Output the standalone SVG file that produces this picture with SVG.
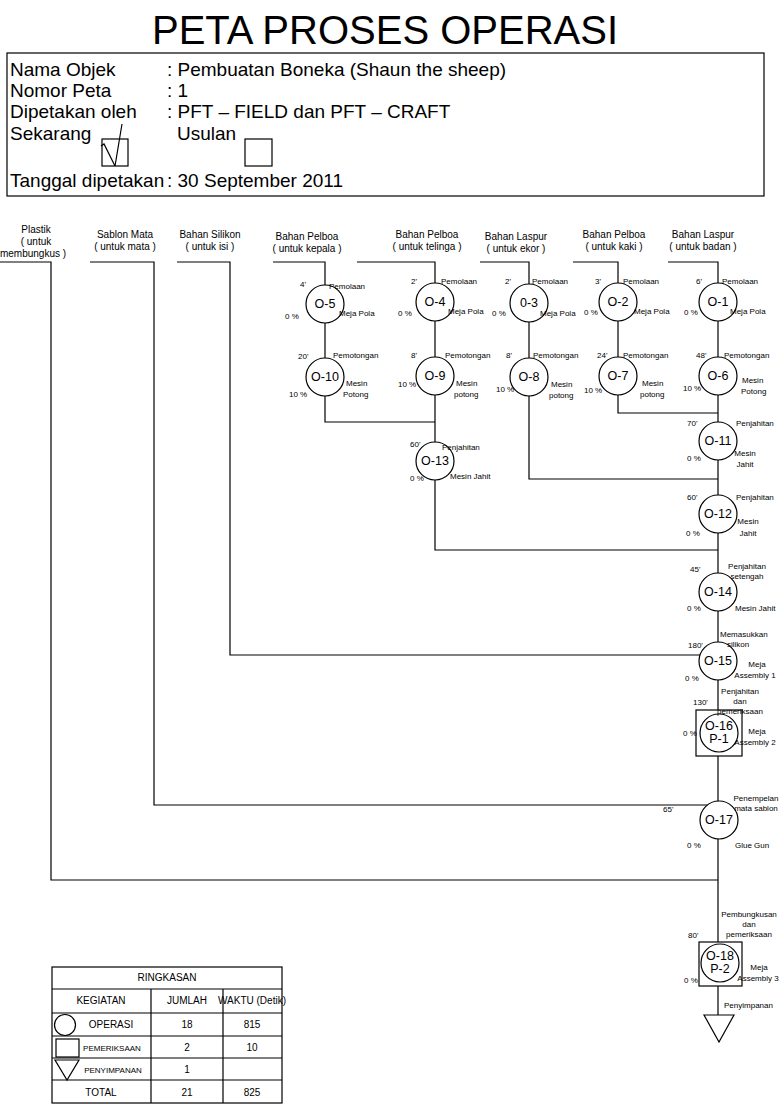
<svg xmlns="http://www.w3.org/2000/svg" width="781" height="1104" viewBox="0 0 781 1104">
<style>
text{font-family:"Liberation Sans",Arial,sans-serif;fill:#000}
.t{font-size:40px}.h{font-size:19px}.s{font-size:10px}.x{font-size:8px}.n{font-size:12.5px}.r{font-size:10px}
.ln{stroke:#000;stroke-width:1.2;fill:none}
.nd{stroke:#000;stroke-width:1.2;fill:#fff}
</style>
<rect width="781" height="1104" fill="#fff"/>
<text class="t" x="385" y="44" text-anchor="middle">PETA PROSES OPERASI</text>
<g id="header">
<rect x="7" y="53" width="757" height="143" class="ln"/>
<text class="h" x="10" y="76">Nama Objek</text><text class="h" x="167" y="76">: Pembuatan Boneka (Shaun the sheep)</text>
<text class="h" x="10" y="97">Nomor Peta</text><text class="h" x="167" y="97">: 1</text>
<text class="h" x="10" y="118">Dipetakan oleh</text><text class="h" x="167" y="118">: PFT – FIELD dan PFT – CRAFT</text>
<text class="h" x="10" y="140">Sekarang</text><text class="h" x="177" y="140">Usulan</text>
<rect x="102" y="139" width="26" height="27" class="ln"/>
<path d="M101 146 L104 144 L115 166" class="ln" stroke-width="2.4"/>
<path d="M115 166 L122 124" class="ln" stroke-width="1"/>
<rect x="245" y="139" width="27" height="27" class="ln"/>
<text class="h" x="10" y="187">Tanggal dipetakan</text><text class="h" x="167" y="187">: 30 September 2011</text>
</g>
<g id="sources" class="s" text-anchor="middle">
<text x="36" y="233">Plastik</text><text x="36" y="245">( untuk</text><text x="33" y="257">membungkus )</text>
<text x="125" y="238">Sablon Mata</text><text x="125" y="250">( untuk mata )</text>
<text x="210" y="238">Bahan Silikon</text><text x="210" y="250">( untuk isi )</text>
<text x="307" y="240">Bahan Pelboa</text><text x="307" y="252">( untuk kepala )</text>
<text x="427" y="238">Bahan Pelboa</text><text x="427" y="250">( untuk telinga )</text>
<text x="516" y="240">Bahan Laspur</text><text x="516" y="252">( untuk ekor )</text>
<text x="614" y="238">Bahan Pelboa</text><text x="614" y="250">( untuk kaki )</text>
<text x="703" y="238">Bahan Laspur</text><text x="703" y="250">( untuk badan )</text>
</g>
<g id="connectors" class="ln">
<path d="M0 262 H51 V880 H718"/>
<path d="M90 262 H154 V805 H718"/>
<path d="M177 262 H230 V655 H718"/>
<path d="M273 262 H325 V422 H435"/>
<path d="M357 262 H435 V550 H718"/>
<path d="M480 262 H529 V479 H718"/>
<path d="M573 262 H618 V413 H718"/>
<path d="M668 262 H718 V1015"/>
</g>
<g id="O-5"><circle cx="325" cy="304" r="19" class="nd"/><text class="n" x="325" y="308" text-anchor="middle">O-5</text><text class="x" x="300" y="287">4'</text><text class="x" x="329" y="289">Pemolaan</text><text class="x" x="285" y="319">0 %</text><text class="x" x="339" y="316">Meja Pola</text></g>
<g id="O-10"><circle cx="325" cy="377" r="19" class="nd"/><text class="n" x="325" y="381" text-anchor="middle">O-10</text><text class="x" x="298" y="359">20'</text><text class="x" x="333" y="358">Pemotongan</text><text class="x" x="289" y="397">10 %</text><text class="x" x="346" y="386">Mesin</text><text class="x" x="343" y="397">Potong</text></g>
<g id="O-4"><circle cx="435" cy="302" r="19" class="nd"/><text class="n" x="435" y="306" text-anchor="middle">O-4</text><text class="x" x="411" y="284">2'</text><text class="x" x="441" y="284">Pemolaan</text><text class="x" x="398" y="316">0 %</text><text class="x" x="448" y="314">Meja Pola</text></g>
<g id="O-9"><circle cx="435" cy="376" r="19" class="nd"/><text class="n" x="435" y="380" text-anchor="middle">O-9</text><text class="x" x="411" y="358">8'</text><text class="x" x="445" y="358">Pemotongan</text><text class="x" x="398" y="387">10 %</text><text class="x" x="456" y="386">Mesin</text><text class="x" x="454" y="397">potong</text></g>
<g id="O-3"><circle cx="529" cy="303" r="19" class="nd"/><text class="n" x="529" y="307" text-anchor="middle">0-3</text><text class="x" x="505" y="284">2'</text><text class="x" x="532" y="284">Pemolaan</text><text class="x" x="492" y="316">0 %</text><text class="x" x="540" y="316">Meja Pola</text></g>
<g id="O-8"><circle cx="529" cy="377" r="19" class="nd"/><text class="n" x="529" y="381" text-anchor="middle">O-8</text><text class="x" x="506" y="358">8'</text><text class="x" x="533" y="358">Pemotongan</text><text class="x" x="496" y="392">10 %</text><text class="x" x="551" y="387">Mesin</text><text class="x" x="549" y="398">potong</text></g>
<g id="O-2"><circle cx="618" cy="302" r="19" class="nd"/><text class="n" x="618" y="306" text-anchor="middle">O-2</text><text class="x" x="595" y="284">3'</text><text class="x" x="623" y="284">Pemolaan</text><text class="x" x="584" y="315">0 %</text><text class="x" x="634" y="314">Meja Pola</text></g>
<g id="O-7"><circle cx="618" cy="376" r="19" class="nd"/><text class="n" x="618" y="380" text-anchor="middle">O-7</text><text class="x" x="597" y="358">24'</text><text class="x" x="623" y="358">Pemotongan</text><text class="x" x="584" y="393">10 %</text><text class="x" x="642" y="386">Mesin</text><text class="x" x="640" y="397">potong</text></g>
<g id="O-1"><circle cx="718" cy="302" r="19" class="nd"/><text class="n" x="718" y="306" text-anchor="middle">O-1</text><text class="x" x="696" y="284">6'</text><text class="x" x="722" y="284">Pemolaan</text><text class="x" x="684" y="315">0 %</text><text class="x" x="730" y="314">Meja Pola</text></g>
<g id="O-6"><circle cx="718" cy="376" r="19" class="nd"/><text class="n" x="718" y="380" text-anchor="middle">O-6</text><text class="x" x="696" y="358">48'</text><text class="x" x="724" y="358">Pemotongan</text><text class="x" x="683" y="391">10 %</text><text class="x" x="742" y="383">Mesin</text><text class="x" x="741" y="394">Potong</text></g>
<g id="O-11"><circle cx="718" cy="441" r="19" class="nd"/><text class="n" x="718" y="445" text-anchor="middle">O-11</text><text class="x" x="687" y="426">70'</text><text class="x" x="736" y="426">Penjahitan</text><text class="x" x="687" y="461">0 %</text><text class="x" x="745" y="456" text-anchor="middle">Mesin</text><text class="x" x="745" y="467" text-anchor="middle">Jahit</text></g>
<g id="O-13"><circle cx="435" cy="461" r="19" class="nd"/><text class="n" x="435" y="465" text-anchor="middle">O-13</text><text class="x" x="410" y="447">60'</text><text class="x" x="442" y="450">Penjahitan</text><text class="x" x="410" y="481">0 %</text><text class="x" x="450" y="479">Mesin Jahit</text></g>
<g id="O-12"><circle cx="718" cy="514" r="19" class="nd"/><text class="n" x="718" y="518" text-anchor="middle">O-12</text><text class="x" x="687" y="500">60'</text><text class="x" x="736" y="500">Penjahitan</text><text class="x" x="686" y="536">0 %</text><text class="x" x="748" y="524" text-anchor="middle">Mesin</text><text class="x" x="748" y="536" text-anchor="middle">Jahit</text></g>
<g id="O-14"><circle cx="718" cy="592" r="19" class="nd"/><text class="n" x="718" y="596" text-anchor="middle">O-14</text><text class="x" x="690" y="572">45'</text><text class="x" x="747" y="569" text-anchor="middle">Penjahitan</text><text class="x" x="747" y="579" text-anchor="middle">setengah</text><text class="x" x="687" y="611">0 %</text><text class="x" x="735" y="611">Mesin Jahit</text></g>
<g id="O-15"><circle cx="718" cy="661" r="19" class="nd"/><text class="n" x="718" y="665" text-anchor="middle">O-15</text><text class="x" x="720" y="637">Memasukkan</text><text class="x" x="738" y="647" text-anchor="middle">silikon</text><text class="x" x="688" y="648">180'</text><text class="x" x="685" y="681">0 %</text><text class="x" x="757" y="667" text-anchor="middle">Meja</text><text class="x" x="755" y="678" text-anchor="middle">Assembly 1</text></g>
<g id="O-16"><rect x="696" y="710" width="46" height="46" class="nd"/><circle cx="719" cy="733" r="19" class="nd"/><text class="n" x="719" y="730" text-anchor="middle">O-16</text><text class="n" x="719" y="743" text-anchor="middle">P-1</text><text class="x" x="693" y="705">130'</text><text class="x" x="740" y="694" text-anchor="middle">Penjahitan</text><text class="x" x="740" y="704" text-anchor="middle">dan</text><text class="x" x="740" y="714" text-anchor="middle">pemeriksaan</text><text class="x" x="683" y="736">0 %</text><text class="x" x="757" y="734" text-anchor="middle">Meja</text><text class="x" x="755" y="745" text-anchor="middle">Assembly 2</text></g>
<g id="O-17"><circle cx="719" cy="820" r="19" class="nd"/><text class="n" x="719" y="824" text-anchor="middle">O-17</text><text class="x" x="756" y="801" text-anchor="middle">Penempelan</text><text class="x" x="756" y="811" text-anchor="middle">mata sablon</text><text class="x" x="663" y="812">65'</text><text class="x" x="687" y="848">0 %</text><text class="x" x="735" y="848">Glue Gun</text></g>
<g id="O-18"><rect x="699" y="942" width="43" height="44" class="nd"/><circle cx="720" cy="963" r="19" class="nd"/><text class="n" x="720" y="960" text-anchor="middle">O-18</text><text class="n" x="720" y="973" text-anchor="middle">P-2</text><text class="x" x="749" y="917" text-anchor="middle">Pembungkusan</text><text class="x" x="749" y="927" text-anchor="middle">dan</text><text class="x" x="749" y="937" text-anchor="middle">pemeriksaan</text><text class="x" x="688" y="938">80'</text><text class="x" x="684" y="983">0 %</text><text class="x" x="759" y="970" text-anchor="middle">Meja</text><text class="x" x="758" y="981" text-anchor="middle">Assembly 3</text></g>
<g id="storage"><path d="M704 1015 H734 L719 1042 Z" class="nd"/><text class="x" x="724" y="1008">Penyimpanan</text></g>
<g id="summary">
<rect x="52" y="967" width="230" height="136" class="ln"/>
<path d="M52 989 H282 M52 1013 H282 M52 1036 H282 M52 1058 H282 M52 1080 H282 M151 989 V1103 M223 989 V1103" class="ln"/>
<g class="r" text-anchor="middle">
<text x="167" y="981">RINGKASAN</text>
<text x="101" y="1004">KEGIATAN</text><text x="187" y="1004">JUMLAH</text><text x="252" y="1004">WAKTU (Detik)</text>
<text x="111" y="1028">OPERASI</text><text x="187" y="1028">18</text><text x="252" y="1028">815</text>
<text class="x" x="112" y="1051">PEMERIKSAAN</text><text x="187" y="1051">2</text><text x="252" y="1051">10</text>
<text class="x" x="113" y="1073">PENYIMPANAN</text><text x="187" y="1073">1</text>
<text x="101" y="1096">TOTAL</text><text x="187" y="1096">21</text><text x="252" y="1096">825</text>
</g>
<circle cx="65" cy="1025" r="10.5" class="ln"/>
<rect x="56" y="1039" width="23" height="18" class="ln"/>
<path d="M55 1060 H79 L67 1080 Z" class="ln"/>
</g>
</svg>
